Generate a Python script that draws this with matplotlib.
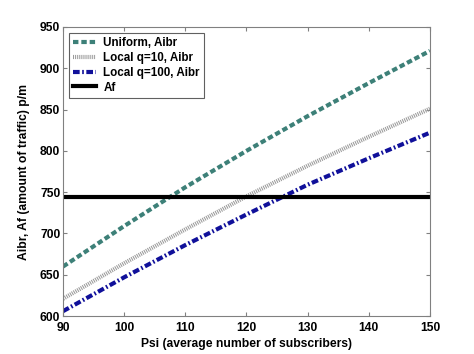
import matplotlib
matplotlib.use("Agg")
import matplotlib.pyplot as plt

psi = [90, 100, 110, 120, 130, 140, 150]
uniform = [660, 709, 756, 800, 842, 882, 921]
local_q10 = [621, 664, 705, 745, 782, 817, 851]
local_q100 = [606, 647, 686, 723, 759, 791, 822]
af_value = 744

xticks = [90, 100, 110, 120, 130, 140, 150]
yticks = [600, 650, 700, 750, 800, 850, 900, 950]

plt.rcParams['font.family'] = ['Liberation Sans', 'DejaVu Sans']

fig = plt.figure(figsize=(4.74, 3.54), dpi=100)
ax = fig.add_axes([0.133, 0.107, 0.774, 0.817])

ax.plot(psi, uniform, color='#3d8078', lw=3, ls=(0, (1.3, 0.7)), label='Uniform, Aibr')
ax.plot(psi, local_q10, color='#9a9a9a', lw=3, ls=(0, (0.25, 0.25)), label='Local q=10, Aibr')
ax.plot(psi, local_q100, color='#10109a', lw=3, ls=(0, (1.6, 0.6, 0.4, 0.6)), label='Local q=100, Aibr')
ax.plot([psi[0], psi[-1]], [af_value, af_value], color='black', lw=3, label='Af')

ax.set_xlim(90, 150)
ax.set_ylim(600, 950)
ax.set_xticks(xticks)
ax.set_yticks(yticks)
ax.tick_params(direction='in', top=True, right=True, length=3, color='#808080',
               labelsize=8.7)
ax.tick_params(axis='x', pad=4)
ax.tick_params(axis='y', pad=2)
for lab in ax.get_xticklabels() + ax.get_yticklabels():
    lab.set_fontweight('bold')
for s in ax.spines.values():
    s.set_color('#808080')

ax.set_xlabel('Psi (average number of subscribers)', fontsize=8.7, fontweight='semibold', labelpad=3)
ax.set_ylabel('Aibr, Af (amount of traffic) p/m', fontsize=8.7, fontweight='semibold', labelpad=7)

leg = ax.legend(loc='upper left', prop={'weight': 'bold', 'size': 8.4},
                handlelength=2.0, borderpad=0.35, labelspacing=0.25, handletextpad=0.6,
                fancybox=False, framealpha=1, borderaxespad=0.5)
leg.get_frame().set_edgecolor('#606060')
leg.get_frame().set_linewidth(0.8)

fig.savefig('out.png', dpi=100)
